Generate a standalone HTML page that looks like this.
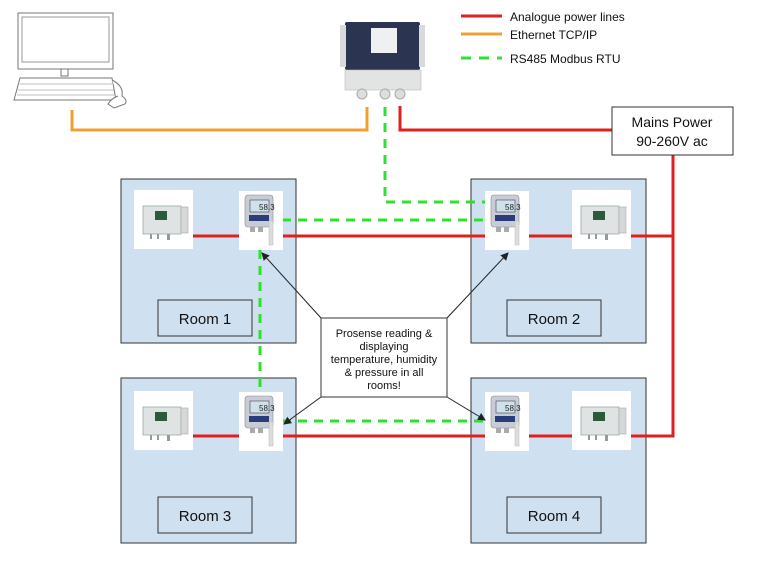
<!DOCTYPE html>
<html><head><meta charset="utf-8"><style>
html,body{margin:0;padding:0;background:#fff;}
svg{display:block;font-family:"Liberation Sans",sans-serif;}
</style></head><body>
<svg width="768" height="576" viewBox="0 0 768 576" xmlns="http://www.w3.org/2000/svg">
<defs>
<marker id="ar" markerWidth="8" markerHeight="8" refX="7" refY="4" orient="auto" markerUnits="userSpaceOnUse">
<path d="M0,0 L8,4 L0,8 z" fill="#222"/></marker>
<g id="dev">
<rect x="0" y="0" width="59" height="59" fill="#fff"/>
<rect x="9" y="16" width="38" height="28" fill="#dfe3e3" stroke="#9aa" stroke-width="0.8"/>
<rect x="47" y="17" width="7" height="26" fill="#d5d8d6" stroke="#aaa" stroke-width="0.6"/>
<rect x="21" y="21" width="12" height="9" fill="#2d5a3a"/>
<rect x="16" y="44" width="2" height="5" fill="#999"/><rect x="23" y="44" width="2" height="5" fill="#999"/><rect x="33" y="44" width="3" height="6" fill="#999"/>
</g>
<g id="sen">
<rect x="0" y="0" width="44" height="59" fill="#fff"/>
<rect x="6" y="4" width="28" height="32" rx="3" fill="#c8ccd4" stroke="#889" stroke-width="0.6"/>
<rect x="11" y="9" width="19" height="12" fill="#cfe1ea" stroke="#445" stroke-width="0.6"/>
<text x="20" y="19" font-size="8" fill="#222">58.3</text>
<rect x="10" y="24" width="20" height="6" fill="#2a3c7a"/>
<rect x="11" y="36" width="5" height="5" fill="#aaa"/><rect x="19" y="36" width="5" height="5" fill="#aaa"/>
<rect x="30" y="30" width="4" height="24" fill="#ddd" stroke="#bbb" stroke-width="0.5"/>
</g>
</defs>

<!-- computer -->
<g stroke="#777" fill="#fff" stroke-width="1">
<rect x="18" y="13" width="95" height="56"/>
<rect x="22" y="17" width="87" height="45" stroke="#999"/>
<rect x="61" y="69" width="7" height="7"/>
<path d="M20,78 L112,78 L116,100 L14,100 Z"/>
<path d="M112,80 Q124,86 122,96 Q128,100 125,104 L114,108 L108,104 Q112,98 118,96"/>
<g stroke="#aaa" stroke-width="0.7"><line x1="20" y1="84" x2="112" y2="84"/><line x1="18" y1="90" x2="114" y2="90"/><line x1="17" y1="95" x2="115" y2="95"/></g>
</g>

<!-- controller -->
<rect x="345" y="22" width="75" height="48" fill="#2b3450" rx="2"/>
<rect x="340" y="25" width="6" height="42" fill="#d8dadc"/><rect x="419" y="25" width="6" height="42" fill="#d8dadc"/>
<rect x="371" y="28" width="26" height="25" fill="#eef0f2"/>
<rect x="345" y="70" width="76" height="20" fill="#e2e4e4" stroke="#bbb" stroke-width="0.6"/>
<circle cx="362" cy="94" r="5" fill="#ddd" stroke="#aaa"/><circle cx="385" cy="94" r="5" fill="#ddd" stroke="#aaa"/><circle cx="400" cy="94" r="5" fill="#ddd" stroke="#aaa"/>

<!-- legend -->
<line x1="461" y1="16" x2="502" y2="16" stroke="#e02020" stroke-width="3"/>
<line x1="461" y1="34" x2="502" y2="34" stroke="#f0a030" stroke-width="3"/>
<line x1="461" y1="58" x2="502" y2="58" stroke="#30e030" stroke-width="3" stroke-dasharray="10,8"/>
<g font-size="12" fill="#111">
<text x="510" y="21">Analogue power lines</text>
<text x="510" y="39">Ethernet TCP/IP</text>
<text x="510" y="63">RS485 Modbus RTU</text>
</g>

<!-- rooms -->
<g fill="#cfe0f1" stroke="#333" stroke-width="1">
<rect x="121" y="179" width="175" height="164"/>
<rect x="471" y="179" width="175" height="164"/>
<rect x="121" y="378" width="175" height="165"/>
<rect x="471" y="378" width="175" height="165"/>
</g>
<g fill="none" stroke="#333" stroke-width="1">
<rect x="158" y="300" width="94" height="36"/>
<rect x="507" y="300" width="94" height="36"/>
<rect x="158" y="497" width="94" height="36"/>
<rect x="507" y="497" width="94" height="36"/>
</g>
<g font-size="15" fill="#111" text-anchor="middle">
<text x="205" y="324">Room 1</text><text x="554" y="324">Room 2</text>
<text x="205" y="521">Room 3</text><text x="554" y="521">Room 4</text>
</g>

<!-- orange -->
<polyline points="72,110 72,130 367,130 367,107" fill="none" stroke="#f0a030" stroke-width="3"/>
<!-- red -->
<g fill="none" stroke="#e02020" stroke-width="3">
<polyline points="400,106 400,130 612,130"/>
<polyline points="673,155 673,236 630,236"/>
<polyline points="673,236 673,436 630,436"/>
<line x1="193" y1="236" x2="239" y2="236"/><line x1="282" y1="236" x2="485" y2="236"/><line x1="528" y1="236" x2="573" y2="236"/>
<line x1="193" y1="436" x2="239" y2="436"/><line x1="282" y1="436" x2="485" y2="436"/><line x1="528" y1="436" x2="573" y2="436"/>
</g>
<!-- green -->
<g fill="none" stroke="#30e030" stroke-width="3" stroke-dasharray="9,7">
<polyline points="385,107 385,202 485,202"/>
<line x1="282" y1="220" x2="485" y2="220"/>
<line x1="260" y1="250" x2="260" y2="392"/>
<line x1="282" y1="421" x2="485" y2="421"/>
</g>

<!-- devices -->
<use href="#dev" x="134" y="190"/><use href="#sen" x="239" y="191"/>
<use href="#sen" x="485" y="191"/><use href="#dev" x="572" y="190"/>
<use href="#dev" x="134" y="391"/><use href="#sen" x="239" y="392"/>
<use href="#sen" x="485" y="392"/><use href="#dev" x="572" y="391"/>

<!-- mains -->
<rect x="612" y="107" width="121" height="48" fill="#fff" stroke="#333"/>
<text x="672" y="127" font-size="14" text-anchor="middle" fill="#111">Mains Power</text>
<text x="672" y="146" font-size="14" text-anchor="middle" fill="#111">90-260V ac</text>

<!-- callout -->
<g stroke="#222" stroke-width="1" marker-end="url(#ar)">
<line x1="321" y1="318" x2="262" y2="253"/>
<line x1="447" y1="318" x2="508" y2="253"/>
<line x1="321" y1="397" x2="284" y2="424"/>
<line x1="447" y1="397" x2="485" y2="420"/>
</g>
<rect x="321" y="318" width="126" height="79" fill="#fff" stroke="#333"/>
<g font-size="11" text-anchor="middle" fill="#111">
<text x="384" y="337">Prosense reading &amp;</text>
<text x="384" y="350">displaying</text>
<text x="384" y="363">temperature, humidity</text>
<text x="384" y="376">&amp; pressure in all</text>
<text x="384" y="389">rooms!</text>
</g>
</svg>
</body></html>
